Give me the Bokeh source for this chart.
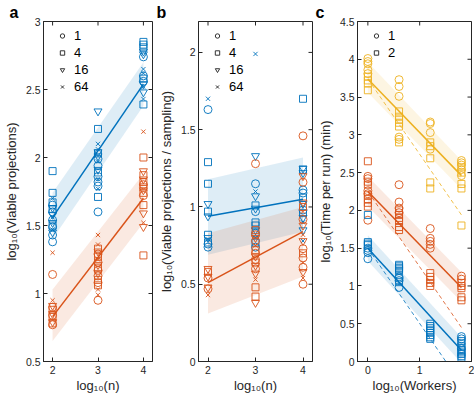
import math
from bokeh.plotting import figure
from bokeh.layouts import row
from bokeh.models import Range1d, FixedTicker, NumeralTickFormatter, Legend, LegendItem
from bokeh.embed import file_html
from bokeh.resources import INLINE

FONT = "Liberation Sans"
BLUE = "#0072BD"
ORANGE = "#D95319"
YELLOW = "#EDB120"
AXC = "#262626"

# ---------------- panel a : log10(Viable projections) vs log10(n) ----------------
a_n = [2, 3, 4]
a_blue_2 = [1.90, 1.74, 1.70, 1.67, 1.65, 1.63, 1.62, 1.60, 1.58, 1.56, 1.54, 1.52, 1.50, 1.49, 1.47, 1.45, 1.43, 1.38]
a_blue_2k = [4, 4, 64, 4, 1, 16, 4, 1, 16, 64, 1, 16, 4, 1, 64, 16, 1, 1]
a_blue_3 = [2.34, 2.21, 2.10, 2.06, 2.04, 2.03, 2.01, 1.99, 1.97, 1.94, 1.91, 1.89, 1.86, 1.84, 1.82, 1.79, 1.77, 1.71, 1.60]
a_blue_3k = [16, 4, 64, 64, 16, 4, 16, 1, 64, 1, 16, 4, 1, 64, 1, 1, 64, 4, 1]
a_blue_4 = [2.85, 2.83, 2.81, 2.78, 2.76, 2.74, 2.65, 2.62, 2.60, 2.58, 2.56, 2.54, 2.52, 2.48, 2.43, 2.39]
a_blue_4k = [4, 4, 4, 16, 16, 1, 64, 64, 1, 4, 1, 16, 64, 16, 64, 4]
a_orange_2 = [1.30, 1.14, 0.95, 0.91, 0.90, 0.88, 0.85, 0.84, 0.83, 0.79, 0.78, 0.77]
a_orange_2k = [64, 1, 64, 16, 1, 4, 16, 1, 4, 16, 4, 1]
a_orange_3 = [1.43, 1.36, 1.33, 1.31, 1.29, 1.27, 1.25, 1.23, 1.21, 1.19, 1.17, 1.15, 1.13, 1.10, 1.08, 1.06, 1.03, 0.99, 0.95]
a_orange_3k = [64, 64, 4, 16, 1, 4, 64, 1, 16, 4, 1, 16, 1, 4, 1, 4, 64, 64, 1]
a_orange_4 = [2.19, 2.00, 1.90, 1.87, 1.84, 1.82, 1.80, 1.78, 1.76, 1.74, 1.72, 1.65, 1.59, 1.52, 1.49, 1.28]
a_orange_4k = [64, 4, 16, 4, 16, 4, 1, 4, 16, 4, 1, 4, 16, 64, 16, 4]
a_fit_x = [2, 4]
a_blue_fit = [1.56, 2.54]
a_blue_lo = [1.40, 2.38]
a_blue_hi = [1.74, 2.70]
a_orange_fit = [0.83, 1.70]
a_orange_lo = [0.65, 1.52]
a_orange_hi = [1.03, 1.88]

# ---------------- panel b : log10(Viable projections / sampling) ----------------
b_blue_2 = [1.70, 1.63, 1.29, 1.15, 1.02, 0.97, 0.94, 0.82, 0.80, 0.79, 0.77, 0.76, 0.74]
b_blue_2k = [64, 1, 4, 4, 16, 4, 16, 4, 16, 64, 4, 1, 1]
b_blue_3 = [1.99, 1.33, 1.15, 1.10, 1.07, 1.01, 0.99, 0.97, 0.90, 0.88, 0.85, 0.83, 0.80, 0.77, 0.74]
b_blue_3k = [64, 16, 1, 64, 16, 4, 16, 1, 4, 4, 16, 1, 64, 4, 1]
b_blue_4 = [1.70, 1.25, 1.24, 1.22, 1.11, 1.09, 1.06, 1.02, 0.98, 0.96, 0.93, 0.90, 0.85, 0.78]
b_blue_4k = [4, 16, 4, 16, 1, 1, 4, 16, 1, 4, 16, 64, 16, 64]
b_orange_2 = [0.60, 0.58, 0.55, 0.54, 0.48, 0.47, 0.43]
b_orange_2k = [16, 4, 16, 1, 16, 1, 64]
b_orange_3 = [1.28, 0.85, 0.82, 0.80, 0.78, 0.75, 0.72, 0.70, 0.68, 0.66, 0.64, 0.62, 0.60, 0.57, 0.53, 0.48, 0.42, 0.38]
b_orange_3k = [1, 4, 1, 16, 1, 64, 4, 1, 16, 1, 4, 16, 1, 16, 64, 4, 4, 16]
b_orange_4 = [1.46, 1.20, 1.16, 1.03, 1.00, 0.97, 0.92, 0.88, 0.82, 0.78, 0.73, 0.70, 0.67, 0.64, 0.61, 0.58, 0.54, 0.50]
b_orange_4k = [1, 16, 1, 16, 4, 64, 1, 16, 64, 16, 1, 4, 1, 64, 1, 16, 64, 1]
b_blue_fit = [0.94, 1.05]
b_blue_lo = [0.69, 0.84]
b_blue_hi = [1.18, 1.32]
b_orange_fit = [0.51, 0.84]
b_orange_lo = [0.31, 0.55]
b_orange_hi = [0.83, 1.00]

# ---------------- panel c : log10(Time per run) vs log10(Workers) ----------------
c_w = [0, 0.602, 1.204, 1.806]
c_yellow_0 = [4.01, 3.97, 3.94, 3.86, 3.81, 3.77, 3.72, 3.68, 3.59]
c_yellow_0k = [1, 1, 1, 1, 1, 2, 2, 2, 2]
c_yellow_1 = [3.73, 3.64, 3.51, 3.31, 3.24, 3.20, 3.16, 3.11, 2.97, 2.94, 2.90]
c_yellow_1k = [1, 1, 1, 2, 2, 2, 2, 2, 1, 1, 2]
c_yellow_2 = [3.17, 3.15, 3.03, 2.90, 2.85, 2.81, 2.69, 2.37, 2.29]
c_yellow_2k = [1, 1, 1, 2, 2, 1, 2, 2, 2]
c_yellow_3 = [2.66, 2.63, 2.60, 2.57, 2.54, 2.50, 2.46, 2.35, 2.29, 1.80]
c_yellow_3k = [1, 1, 1, 2, 1, 2, 1, 2, 2, 2]
c_orange_0 = [2.65, 2.45, 2.42, 2.38, 2.34, 2.26, 2.22, 2.20, 2.15, 2.10, 2.05, 1.87]
c_orange_0k = [2, 1, 1, 2, 2, 1, 1, 2, 2, 2, 2, 1]
c_orange_1 = [2.34, 2.11, 2.03, 2.00, 1.97, 1.94, 1.90, 1.86, 1.78, 1.74]
c_orange_1k = [1, 1, 1, 2, 1, 2, 2, 2, 2, 2]
c_orange_2 = [1.76, 1.63, 1.59, 1.55, 1.50, 1.17, 1.12, 1.08, 1.04, 1.00]
c_orange_2k = [1, 1, 1, 1, 1, 2, 2, 2, 2, 2]
c_orange_3 = [1.13, 1.09, 1.04, 1.00, 0.97, 0.85, 0.81]
c_orange_3k = [1, 1, 2, 2, 2, 2, 2]
c_blue_0 = [1.94, 1.58, 1.56, 1.54, 1.50, 1.47, 1.44, 1.36]
c_blue_0k = [2, 2, 2, 2, 1, 1, 1, 1]
c_blue_1 = [1.28, 1.26, 1.24, 1.22, 1.20, 1.12, 1.10, 1.07, 1.05, 0.98]
c_blue_1k = [2, 2, 2, 2, 2, 1, 1, 1, 2, 1]
c_blue_2 = [0.50, 0.47, 0.44, 0.41, 0.38, 0.35, 0.32, 0.30]
c_blue_2k = [2, 2, 2, 2, 2, 2, 2, 2]
c_blue_3 = [0.33, 0.30, 0.27, 0.24, 0.20, 0.17, 0.15, 0.12, 0.10, 0.07, 0.05]
c_blue_3k = [1, 1, 2, 2, 2, 1, 2, 2, 2, 2, 2]
c_fit_x = [0, 1.806]
c_yellow_fit = [3.74, 2.46]
c_yellow_ideal = [3.74, 1.94]
c_yellow_lo = [3.56, 2.28]
c_yellow_hi = [3.96, 2.66]
c_orange_fit = [2.25, 0.98]
c_orange_ideal = [2.25, 0.45]
c_orange_lo = [2.05, 0.79]
c_orange_hi = [2.45, 1.18]
c_blue_fit = [1.50, 0.15]
c_blue_ideal = [1.50, -0.30]
c_blue_lo = [1.33, -0.02]
c_blue_hi = [1.67, 0.32]

MARK = {1: "circle", 2: "square", 4: "square", 16: "inverted_triangle", 64: "x"}
MSIZE = {1: 8, 2: 7, 4: 7, 16: 8, 64: 6}

H = 395
TOP = 19
BOTTOM = 32


def make_panel(width, left, right, xr, yr, xticks, yticks, xlabel, ylabel, letter, letter_dx):
    p = figure(width=width, height=H, x_range=Range1d(*xr), y_range=Range1d(*yr),
               output_backend="svg", toolbar_location=None,
               min_border_left=left, min_border_right=right, min_border_top=TOP, min_border_bottom=BOTTOM)
    p.title.text = letter
    p.title.align = "left"
    p.title.offset = letter_dx
    p.title.standoff = 2
    p.title.text_font = FONT
    p.title.text_font_size = "16px"
    p.title.text_font_style = "bold"
    p.title.text_color = "black"
    p.title.text_line_height = 0.9
    p.xgrid.visible = False
    p.ygrid.visible = False
    p.background_fill_color = "white"
    p.outline_line_color = AXC
    p.outline_line_width = 1
    p.xaxis.ticker = FixedTicker(ticks=xticks)
    p.yaxis.ticker = FixedTicker(ticks=yticks)
    p.xaxis.formatter = NumeralTickFormatter(format="0.[0]")
    p.yaxis.formatter = NumeralTickFormatter(format="0.[0]")
    p.xaxis.axis_label = xlabel
    p.yaxis.axis_label = ylabel
    for ax in (p.xaxis[0], p.yaxis[0]):
        ax.axis_line_color = AXC
        ax.major_tick_line_color = AXC
        ax.major_tick_in = 4
        ax.major_tick_out = 0
        ax.minor_tick_line_color = None
        ax.major_label_text_font = FONT
        ax.major_label_text_font_size = "10.5px"
        ax.major_label_text_color = AXC
        ax.axis_label_text_font = FONT
        ax.axis_label_text_font_size = "13px"
        ax.axis_label_text_font_style = "normal"
        ax.axis_label_text_color = AXC
    p.xaxis.major_label_standoff = 4
    p.xaxis.axis_label_standoff = 1
    p.yaxis.major_label_standoff = 3
    p.yaxis.axis_label_standoff = 4
    # mirrored inward ticks on the top and right edges of the box
    p.ray(x=xticks, y=[yr[1]] * len(xticks), length=4, length_units="screen",
          angle=-math.pi / 2, line_color=AXC, line_width=1)
    p.ray(x=[xr[1]] * len(yticks), y=yticks, length=4, length_units="screen",
          angle=math.pi, line_color=AXC, line_width=1)
    return p


def draw_points(p, xval, vals, kinds, color):
    for k in sorted(set(kinds)):
        ys = [v for v, kk in zip(vals, kinds) if kk == k]
        p.scatter([xval] * len(ys), ys, marker=MARK[k], size=MSIZE[k],
                  line_color=color, fill_color=None, line_width=1, line_alpha=0.9)


def add_legend(p, keys):
    items = []
    for k in keys:
        r = p.scatter(x=[float("nan")], y=[float("nan")], marker=MARK[k], line_color="#333333",
                      fill_color=None, line_width=1)
        items.append(LegendItem(label=str(k), renderers=[r]))
    leg = Legend(items=items, location="top_left", border_line_color=None, background_fill_alpha=0,
                 label_text_font=FONT, label_text_font_size="13px", label_text_color="black",
                 glyph_width=24, glyph_height=11, label_standoff=0, spacing=2, padding=9, margin=7)
    p.add_layout(leg)


LBL_N = "log\u2081\u2080(n)"

# panel a
pa = make_panel(155, 38, 3, (1.8, 4.2), (0.5, 3.0), a_n, [0.5, 1, 1.5, 2, 2.5, 3],
                LBL_N, "log\u2081\u2080(Viable projections)", "a", -34)
pa.varea(x=a_fit_x, y1=a_blue_lo, y2=a_blue_hi, fill_color=BLUE, fill_alpha=0.13)
pa.varea(x=a_fit_x, y1=a_orange_lo, y2=a_orange_hi, fill_color=ORANGE, fill_alpha=0.13)
for xv, bv, bk, ov, ok in ((a_n[0], a_blue_2, a_blue_2k, a_orange_2, a_orange_2k),
                           (a_n[1], a_blue_3, a_blue_3k, a_orange_3, a_orange_3k),
                           (a_n[2], a_blue_4, a_blue_4k, a_orange_4, a_orange_4k)):
    draw_points(pa, xv, bv, bk, BLUE)
    draw_points(pa, xv, ov, ok, ORANGE)
pa.line(a_fit_x, a_blue_fit, line_color=BLUE, line_width=1.5)
pa.line(a_fit_x, a_orange_fit, line_color=ORANGE, line_width=1.5)
add_legend(pa, [1, 4, 16, 64])

# panel b
pb = make_panel(159, 43, 2, (1.8, 4.2), (0.0, 2.2), a_n, [0, 0.5, 1, 1.5, 2],
                LBL_N, "log\u2081\u2080(Viable projections / sampling)", "b", -42)
pb.varea(x=a_fit_x, y1=b_blue_lo, y2=b_blue_hi, fill_color=BLUE, fill_alpha=0.13)
pb.varea(x=a_fit_x, y1=b_orange_lo, y2=b_orange_hi, fill_color=ORANGE, fill_alpha=0.13)
for xv, bv, bk, ov, ok in ((a_n[0], b_blue_2, b_blue_2k, b_orange_2, b_orange_2k),
                           (a_n[1], b_blue_3, b_blue_3k, b_orange_3, b_orange_3k),
                           (a_n[2], b_blue_4, b_blue_4k, b_orange_4, b_orange_4k)):
    draw_points(pb, xv, bv, bk, BLUE)
    draw_points(pb, xv, ov, ok, ORANGE)
pb.line(a_fit_x, b_blue_fit, line_color=BLUE, line_width=1.5)
pb.line(a_fit_x, b_orange_fit, line_color=ORANGE, line_width=1.5)
add_legend(pb, [1, 4, 16, 64])

# panel c
pc = make_panel(160, 43, 3, (-0.2, 2.0), (0.0, 4.5), [0, 1, 2], [0, 0.5, 1, 1.5, 2, 2.5, 3, 3.5, 4, 4.5],
                "log\u2081\u2080(Workers)", "log\u2081\u2080(Time per run) (min)", "c", -42)
for color, lo, hi in ((YELLOW, c_yellow_lo, c_yellow_hi), (ORANGE, c_orange_lo, c_orange_hi),
                      (BLUE, c_blue_lo, c_blue_hi)):
    pc.varea(x=c_fit_x, y1=lo, y2=hi, fill_color=color, fill_alpha=0.13)
groups = ((YELLOW, [c_yellow_0, c_yellow_1, c_yellow_2, c_yellow_3], [c_yellow_0k, c_yellow_1k, c_yellow_2k, c_yellow_3k]),
          (ORANGE, [c_orange_0, c_orange_1, c_orange_2, c_orange_3], [c_orange_0k, c_orange_1k, c_orange_2k, c_orange_3k]),
          (BLUE, [c_blue_0, c_blue_1, c_blue_2, c_blue_3], [c_blue_0k, c_blue_1k, c_blue_2k, c_blue_3k]))
for color, vlists, klists in groups:
    for xv, vals, kinds in zip(c_w, vlists, klists):
        draw_points(pc, xv, vals, kinds, color)
for color, fit, ideal in ((YELLOW, c_yellow_fit, c_yellow_ideal), (ORANGE, c_orange_fit, c_orange_ideal),
                          (BLUE, c_blue_fit, c_blue_ideal)):
    pc.line(c_fit_x, fit, line_color=color, line_width=1.5)
    pc.line(c_fit_x, ideal, line_color=color, line_width=1, line_dash="4 3", line_alpha=0.8)
add_legend(pc, [1, 2])

layout = row(pa, pb, pc)
open("out.html", "w").write(file_html(layout, INLINE))
